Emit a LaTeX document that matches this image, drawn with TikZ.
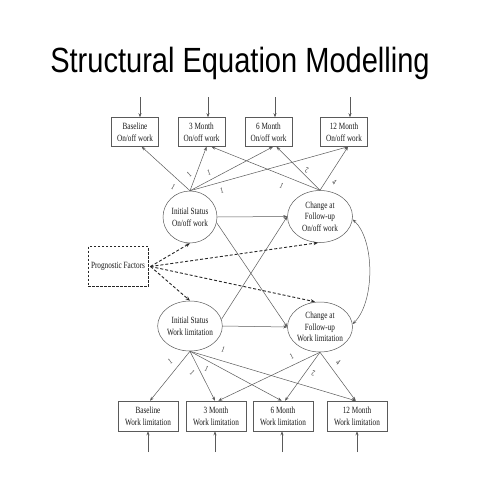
\documentclass[tikz,border=0pt]{standalone}
\usepackage{fontspec}
\setmainfont{Liberation Serif}
\newfontfamily\titlefont[FakeStretch=0.83]{Liberation Sans}
\newfontfamily\boxfont[FakeStretch=0.76]{Liberation Serif}
\usetikzlibrary{arrows.meta,shapes.geometric}
\definecolor{linegray}{HTML}{5A5A5A}
\definecolor{txt}{HTML}{1A1A1A}
\begin{document}
\begin{tikzpicture}[x=1pt,y=-1pt,
  obox/.style={draw=linegray, line width=0.5pt, minimum width=47pt, minimum height=29pt, inner sep=0pt, align=center, text=txt, font=\boxfont\fontsize{9.5}{11.7}\selectfont},
  wbox/.style={obox, minimum width=60pt, minimum height=30pt},
  latent/.style={ellipse, draw=linegray, line width=0.5pt, inner sep=0pt, align=center, text=txt, font=\boxfont\fontsize{9.5}{11.6}\selectfont},
  pfbox/.style={draw=black!85, dashed, line width=1pt, dash pattern=on 2.5pt off 1.5pt, minimum width=60pt, minimum height=40pt, inner sep=0pt, text=txt, font=\boxfont\fontsize{9.5}{11.6}\selectfont},
  arr/.style={draw=linegray, line width=0.5pt, -{Stealth[length=4pt,width=3pt]}},
  darr/.style={draw=black!85, line width=0.9pt, dash pattern=on 3pt off 2pt, -{Stealth[length=4.5pt,width=3.5pt]}},
  dbl/.style={draw=linegray, line width=0.5pt, {Stealth[length=4pt,width=3pt]}-{Stealth[length=4pt,width=3pt]}},
  lbl/.style={inner sep=0pt, text=black!80, font=\boxfont\fontsize{8}{8}\selectfont}
]
\useasboundingbox (0,0) rectangle (480,480);
\fill[white] (0,0) rectangle (480,480);

% title
\node[anchor=base, inner sep=0pt, text=black, font=\titlefont\fontsize{35}{40}\selectfont] (title) at (240,72) {Structural Equation Modelling};

% top boxes
\node[obox] (b0) at (135,132) {Baseline\\On/off work};
\node[obox] (b1) at (201.5,132) {3 Month\\On/off work};
\node[obox] (b2) at (268.5,132) {6 Month\\On/off work};
\node[obox] (b3) at (344,132) {12 Month\\On/off work};

% bottom boxes
\node[wbox] (w0) at (148,416) {Baseline\\Work limitation};
\node[wbox] (w1) at (216,416) {3 Month\\Work limitation};
\node[wbox] (w2) at (283,416) {6 Month\\Work limitation};
\node[wbox] (w3) at (357,416) {12 Month\\Work limitation};

% latent factors
\node[latent, minimum width=54pt, minimum height=52pt] (ion) at (190,217) {Initial Status\\On/off work};
\node[latent, minimum width=65pt, minimum height=52pt] (con) at (320,216.5) {Change at\\Follow-up\\On/off work};
\node[latent, minimum width=54pt, minimum height=50pt] (iwl) at (190,326) {Initial Status\\Work limitation};
\node[latent, minimum width=65pt, minimum height=50pt] (cwl) at (320,327) {Change at\\Follow-up\\Work limitation};

% prognostic factors
\node[pfbox] (pf) at (118,266.5) {Prognostic Factors};

% residual inputs
\coordinate (t0) at (140,97);
\coordinate (t1) at (208,97);
\coordinate (t2) at (275,97);
\coordinate (t3) at (350,97);
\draw[arr] (t0) -- ([xshift=5pt]b0.north);
\draw[arr] (t1) -- ([xshift=6.5pt]b1.north);
\draw[arr] (t2) -- ([xshift=6.5pt]b2.north);
\draw[arr] (t3) -- ([xshift=6pt]b3.north);
\coordinate (u0) at (148,452);
\coordinate (u1) at (215,452);
\coordinate (u2) at (282,452);
\coordinate (u3) at (357,452);
\draw[arr] (u0) -- (w0.south);
\draw[arr] (u1) -- ([xshift=-1pt]w1.south);
\draw[arr] (u2) -- ([xshift=-1pt]w2.south);
\draw[arr] (u3) -- (w3.south);

% loadings on/off work
\draw[arr] (ion.north) -- ([xshift=6.7pt]b0.south);
\draw[arr] (ion.north) -- ([xshift=5pt]b1.south);
\draw[arr] (ion.north) -- ([xshift=4.5pt]b2.south);
\draw[arr] (ion.north) -- ([xshift=4pt]b3.south);
\draw[arr] (con.north) -- ([xshift=10pt]b1.south);
\draw[arr] (con.north) -- ([xshift=8pt]b2.south);
\draw[arr] (con.north) -- ([xshift=4pt]b3.south);

% loadings work limitation
\draw[arr] (iwl.south) -- ([xshift=2pt]w0.north);
\draw[arr] (iwl.south) -- ([xshift=-1pt]w1.north);
\draw[arr] (iwl.south) -- ([xshift=-1.3pt]w2.north);
\draw[arr] (iwl.south) -- ([xshift=-1.3pt]w3.north);
\draw[arr] (cwl.south) -- ([xshift=2.3pt]w1.north);
\draw[arr] (cwl.south) -- ([xshift=2pt]w2.north);
\draw[arr] (cwl.south) -- ([xshift=-1.3pt]w3.north);

% structural paths
\draw[arr] (ion.east) -- (con.west);
\draw[arr] (iwl.east) -- (cwl.west);
\draw[arr] (ion.-12) -- (cwl.west);
\draw[arr] (iwl.12) -- (con.west);

% covariance
\draw[dbl] (con.-5) .. controls (375,240) and (375,302) .. (cwl.5);

% prognostic paths
\coordinate (pfo) at ([xshift=2pt]pf.east);
\draw[darr] (pfo) -- (ion.south);
\draw[darr] (pfo) -- ([xshift=-2pt]con.south);
\draw[darr] (pfo) -- (iwl.north);
\draw[darr] (pfo) -- ([xshift=-5pt]cwl.north);

% loading labels
\node[lbl, rotate=-30] (l1) at (173.3,186.7) {1};
\node[lbl, rotate=40] (l2) at (189,174) {1};
\node[lbl, rotate=15] (l3) at (209,172.3) {1};
\node[lbl, rotate=12] (l4) at (221.7,190.7) {1};
\node[lbl, rotate=-25] (l5) at (281.7,186) {1};
\node[lbl, rotate=160] (l6) at (306.7,170) {2};
\node[lbl, rotate=-35] (l7) at (334.3,182.7) {4};
\node[lbl, rotate=35] (l8) at (170,361.7) {1};
\node[lbl, rotate=-20] (l9) at (223.3,350) {1};
\node[lbl, rotate=-25] (l10) at (206.7,368.3) {1};
\node[lbl, rotate=-45] (l11) at (192.3,372.3) {1};
\node[lbl, rotate=25] (l12) at (291.7,356.7) {1};
\node[lbl, rotate=160] (l13) at (313.3,373.3) {2};
\node[lbl, rotate=-40] (l14) at (338.3,362.3) {4};
\end{tikzpicture}
\end{document}
